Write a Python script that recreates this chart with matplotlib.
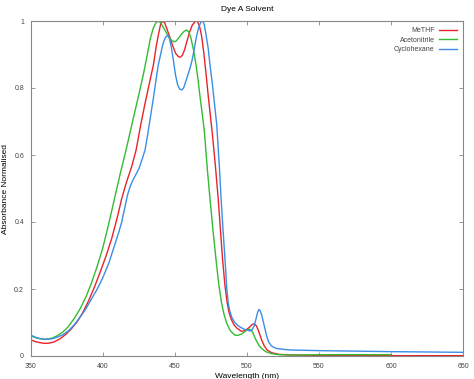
import matplotlib
matplotlib.use("Agg")
import matplotlib.pyplot as plt

plt.rcParams["font.family"] = ["Liberation Sans", "DejaVu Sans"]

# MeTHF (red)
methf_nm = [350, 353, 356, 359, 362, 366, 370, 374, 378, 382, 386, 390, 394, 398, 402,
            406, 410, 413, 416, 419.9, 423, 426.2, 429, 432, 435, 437, 438.5, 440, 441.4,
            442.8, 444.5, 446.5, 448.5, 450.5, 452.5, 453.5, 455, 456.5, 458, 460, 462,
            464, 465.5, 467, 468.5, 470, 471.5, 473, 474.5, 476, 478, 480, 481.5, 483,
            484.7, 486.3, 487.5, 489, 491, 493, 496, 498, 500, 502, 503.5, 505, 506.5,
            508, 510, 512, 514, 517, 522, 530, 550, 600, 650]
methf_abs = [0.048, 0.043, 0.040, 0.038, 0.038, 0.042, 0.051, 0.064, 0.081, 0.102, 0.130,
             0.165, 0.205, 0.250, 0.297, 0.350, 0.415, 0.470, 0.515, 0.565, 0.615, 0.690,
             0.750, 0.810, 0.869, 0.925, 0.960, 0.990, 1.0, 0.995, 0.975, 0.950, 0.925,
             0.903, 0.893, 0.892, 0.897, 0.912, 0.935, 0.965, 0.988, 0.998, 1.0, 0.985,
             0.955, 0.905, 0.845, 0.780, 0.720, 0.660, 0.570, 0.470, 0.380, 0.290, 0.210,
             0.157, 0.130, 0.110, 0.093, 0.083, 0.074, 0.075, 0.080, 0.087, 0.094, 0.096,
             0.090, 0.075, 0.050, 0.030, 0.018, 0.010, 0.005, 0.003, 0.002, 0.001, 0.001]

# Acetonitrile (green)
acn_nm = [350, 353, 356, 359, 362, 365, 368, 372, 376, 380, 384, 388, 392, 396, 400, 404,
          408, 412, 416, 420, 424, 428, 431, 433, 435, 436.8, 438.4, 440, 442, 444, 446,
          448, 449.5, 451, 453, 455, 456.5, 458.1, 459.5, 461, 462.8, 464.6, 466, 467.5,
          469, 470.4, 472.4, 474.5, 476.5, 478.5, 480.5, 482.4, 484, 486, 488.5, 491.7,
          494, 496.5, 499, 501, 502.5, 504, 506, 508, 510, 513, 517, 522, 530, 560, 600]
acn_abs = [0.060, 0.055, 0.052, 0.050, 0.051, 0.054, 0.060, 0.071, 0.088, 0.112, 0.140,
           0.175, 0.218, 0.268, 0.325, 0.395, 0.470, 0.545, 0.615, 0.690, 0.764, 0.840,
           0.905, 0.950, 0.980, 0.995, 1.0, 0.995, 0.980, 0.965, 0.950, 0.941, 0.938,
           0.941, 0.952, 0.963, 0.970, 0.973, 0.968, 0.950, 0.915, 0.869, 0.825, 0.770,
           0.720, 0.670, 0.560, 0.460, 0.370, 0.287, 0.210, 0.157, 0.125, 0.097, 0.075,
           0.062, 0.062, 0.066, 0.075, 0.080, 0.079, 0.070, 0.050, 0.034, 0.023, 0.013,
           0.007, 0.004, 0.003, 0.004, 0.004]

# Cyclohexane (blue)
chx_nm = [350, 353, 356, 359, 362, 365, 368, 372, 376, 380, 384, 388, 392, 396, 400, 404,
          408, 411, 413, 415, 417, 419, 421, 423, 425, 427, 429.2, 431, 433, 435, 437,
          438.4, 440, 441.5, 443, 444.2, 445, 446, 447.3, 448.8, 450.3, 451.8, 453.2,
          454.6, 456, 457.5, 459, 460.5, 462, 463.5, 465, 466.5, 468, 469.2, 470.3, 471.5,
          473, 474.3, 476, 477.5, 479, 480.6, 482, 483.3, 484.7, 486, 487, 488, 489.5,
          491.5, 494, 497, 500, 502, 503.5, 505, 506.5, 507.5, 508.3, 509.3, 510.5, 512,
          513.5, 515, 517, 520, 525, 530, 550, 600, 650]
chx_abs = [0.062, 0.056, 0.052, 0.050, 0.050, 0.052, 0.056, 0.063, 0.075, 0.093, 0.115,
           0.140, 0.170, 0.200, 0.235, 0.277, 0.330, 0.370, 0.400, 0.440, 0.480, 0.508,
           0.527, 0.543, 0.560, 0.585, 0.615, 0.660, 0.715, 0.770, 0.830, 0.869, 0.900,
           0.930, 0.948, 0.955, 0.956, 0.950, 0.925, 0.885, 0.840, 0.810, 0.797, 0.794,
           0.800, 0.820, 0.840, 0.860, 0.885, 0.920, 0.955, 0.982, 0.997, 1.0, 0.990,
           0.960, 0.920, 0.869, 0.810, 0.750, 0.690, 0.580, 0.470, 0.380, 0.290, 0.200,
           0.157, 0.135, 0.115, 0.100, 0.090, 0.082, 0.077, 0.075, 0.078, 0.090, 0.115,
           0.132, 0.139, 0.134, 0.117, 0.090, 0.062, 0.042, 0.030, 0.023, 0.020, 0.018,
           0.016, 0.013, 0.011]

x_ticks = [350, 400, 450, 500, 550, 600, 650]
y_ticks = [0, 0.2, 0.4, 0.6, 0.8, 1]
y_tick_labels = ["0", "0.2", "0.4", "0.6", "0.8", "1"]

fig = plt.figure(figsize=(4.74, 3.79), dpi=100)
ax = fig.add_axes([31 / 474, 23 / 379, 432 / 474, 335 / 379])

ax.plot(methf_nm, methf_abs, color="#e8232a", lw=1.0, label="MeTHF")
ax.plot(acn_nm, acn_abs, color="#33bb33", lw=1.0, label="Acetonitrile")
ax.plot(chx_nm, chx_abs, color="#3a8ee6", lw=1.0, label="Cyclohexane")

ax.set_xlim(350, 650)
ax.set_ylim(0, 1)
ax.set_xticks(x_ticks)
ax.set_yticks(y_ticks)
ax.set_yticklabels(y_tick_labels)
ax.tick_params(direction="in", length=3, width=0.6, colors="#888888",
               labelcolor="#444444", labelsize=5, top=True, right=True, pad=5)
for s in ax.spines.values():
    s.set_color("#888888")
    s.set_linewidth(0.8)

ax.set_title("Dye A Solvent", fontsize=6, pad=7)
ax.set_xlabel("Wavelength (nm)", fontsize=6, labelpad=2)
ax.set_ylabel("Absorbance Normalised", fontsize=6, labelpad=4)

leg = ax.legend(loc="upper right", frameon=False, markerfirst=False, fontsize=5,
                handlelength=2.6, labelspacing=0.35, borderaxespad=0.5,
                handletextpad=0.6)
for t in leg.get_texts():
    t.set_color("#444444")

fig.savefig("out.png", dpi=100)
